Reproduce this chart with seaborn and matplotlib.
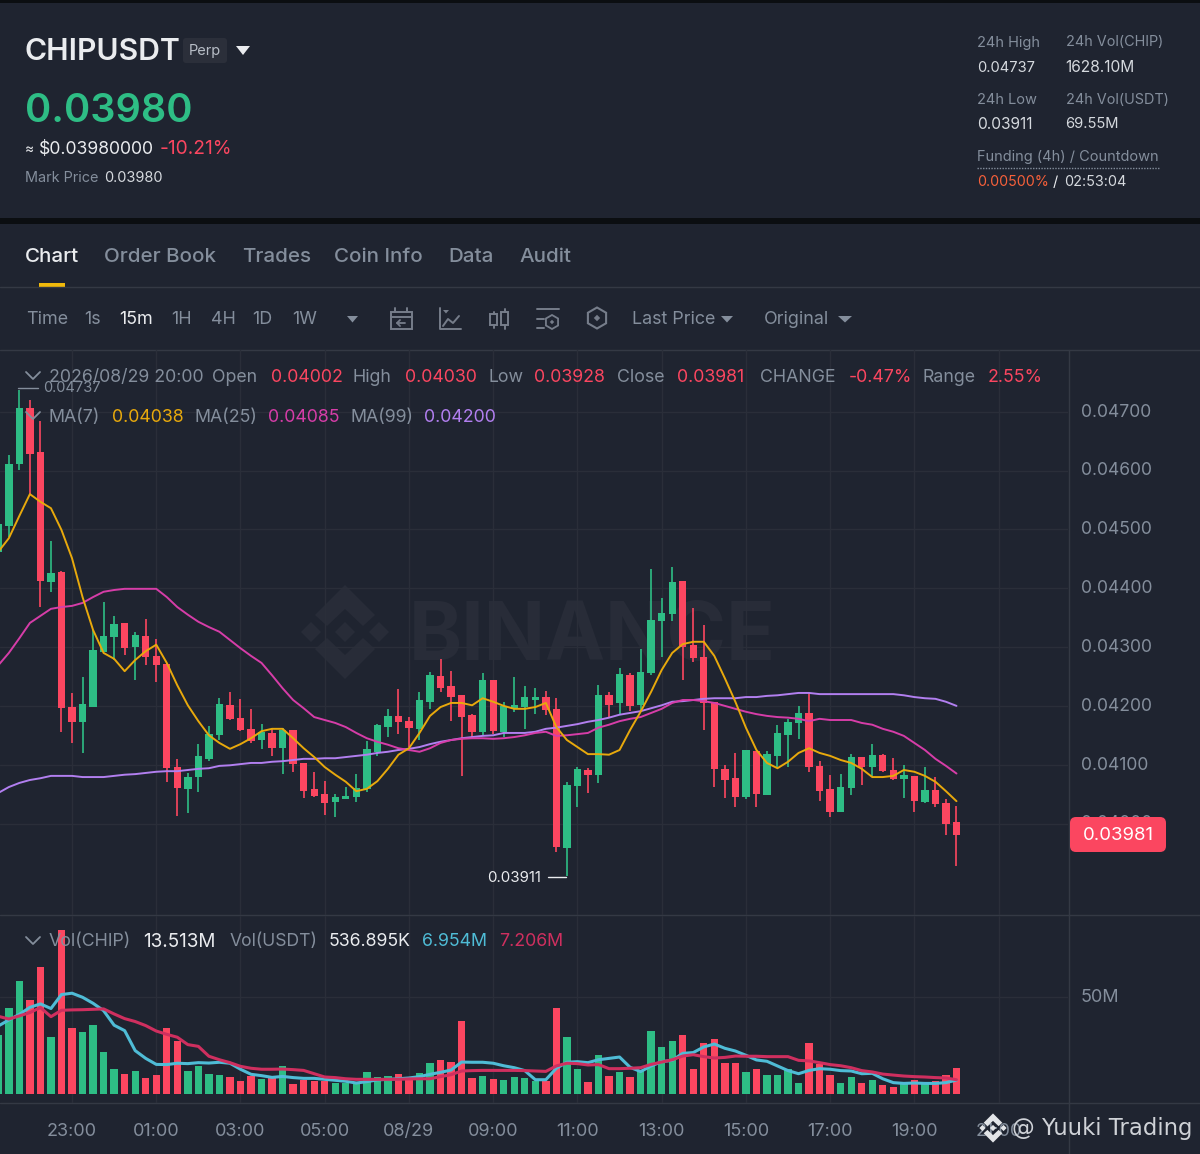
import matplotlib
matplotlib.use("Agg")
import matplotlib.pyplot as plt
from matplotlib.transforms import ScaledTranslation
import numpy as np
import seaborn as sns
from matplotlib.patches import Polygon, Rectangle, FancyBboxPatch, RegularPolygon

# ---------- data (prices in units of 0.00001) ----------
open_ = [4462,4506,4611,4706,4632,4411,4428,4198,4173,4198,4292,4317,4341,4300,4319,4285,4271,4096,4059,4079,4110,4150,4201,4180,4161,4142,4154,4129,4159,4103,4059,4050,4037,4042,4045,4059,4122,4164,4183,4174,4161,4207,4251,4234,4218,4184,4156,4244,4156,4196,4198,4210,4215,4195,3959,4064,4091,4083,4218,4205,4252,4201,4256,4344,4356,4412,4304,4283,4207,4093,4077,4045,4123,4048,4115,4150,4171,4188,4098,4059,4020,4060,4113,4096,4116,4091,4076,4081,4037,4057,4035,4002]
high = [4509,4626,4737,4720,4684,4480,4429,4222,4249,4329,4377,4353,4341,4326,4348,4314,4273,4110,4086,4135,4166,4213,4224,4212,4195,4169,4163,4163,4159,4103,4088,4072,4050,4062,4084,4140,4169,4195,4229,4181,4224,4258,4280,4259,4218,4186,4256,4244,4207,4249,4234,4230,4225,4213,4070,4096,4094,4235,4224,4264,4256,4297,4433,4384,4436,4412,4366,4338,4207,4099,4120,4125,4123,4123,4168,4178,4200,4222,4106,4083,4084,4118,4113,4135,4118,4111,4099,4081,4096,4079,4042,4030]
low = [4456,4487,4601,4558,4368,4394,4156,4137,4120,4198,4292,4278,4286,4244,4269,4241,4071,4013,4018,4054,4106,4142,4176,4157,4137,4127,4115,4084,4088,4043,4045,4015,4011,4042,4037,4054,4115,4147,4152,4130,4142,4195,4224,4174,4081,4146,4149,4152,4147,4190,4161,4186,4184,3951,3911,4028,4052,4069,4181,4184,4192,4193,4252,4283,4344,4244,4275,4159,4062,4043,4028,4042,4028,4048,4096,4096,4144,4088,4038,4011,4020,4048,4065,4079,4088,4074,4043,4020,4035,4028,3981,3928]
close = [4509,4611,4706,4628,4412,4426,4196,4173,4203,4295,4319,4339,4298,4321,4283,4269,4094,4060,4079,4115,4152,4203,4178,4159,4140,4156,4129,4159,4101,4055,4047,4035,4045,4047,4060,4127,4167,4183,4173,4162,4210,4252,4230,4215,4181,4156,4244,4157,4200,4201,4215,4215,4193,3960,4065,4093,4083,4218,4201,4254,4200,4258,4346,4358,4411,4300,4281,4205,4093,4074,4045,4125,4050,4118,4154,4173,4188,4096,4055,4020,4062,4113,4096,4116,4089,4076,4083,4038,4057,4033,3999,3981]
ma7 = [4462,4485,4523,4560,4547,4536,4499,4451,4385,4329,4290,4280,4259,4278,4293,4304,4273,4235,4201,4174,4150,4137,4127,4135,4145,4157,4161,4161,4145,4128,4113,4096,4083,4071,4055,4059,4072,4093,4117,4128,4154,4183,4198,4205,4205,4201,4213,4207,4200,4195,4195,4198,4205,4164,4142,4130,4118,4118,4117,4125,4159,4190,4224,4261,4290,4305,4309,4309,4285,4247,4207,4163,4125,4103,4094,4105,4120,4128,4120,4115,4108,4103,4093,4079,4079,4081,4091,4088,4081,4071,4055,4038]
ma25 = [4269,4290,4315,4341,4353,4365,4368,4370,4375,4385,4394,4397,4399,4399,4399,4399,4385,4368,4355,4343,4334,4326,4312,4298,4285,4273,4252,4230,4210,4196,4181,4176,4171,4164,4154,4145,4139,4134,4128,4125,4122,4128,4137,4142,4144,4145,4145,4144,4145,4147,4150,4154,4156,4149,4150,4152,4154,4163,4168,4174,4178,4181,4188,4195,4205,4210,4210,4208,4205,4200,4195,4190,4186,4183,4181,4180,4178,4174,4178,4176,4176,4176,4171,4168,4161,4156,4149,4137,4125,4110,4098,4085]
ma99 = [4052,4062,4069,4074,4077,4081,4081,4081,4079,4079,4079,4081,4083,4084,4086,4088,4089,4089,4091,4093,4094,4098,4099,4101,4103,4103,4105,4106,4108,4110,4110,4111,4111,4113,4115,4117,4120,4122,4125,4127,4130,4135,4139,4142,4145,4147,4149,4150,4154,4154,4154,4156,4161,4163,4166,4169,4173,4176,4180,4185,4188,4191,4196,4201,4207,4208,4210,4212,4213,4213,4213,4215,4215,4217,4218,4220,4222,4222,4220,4220,4220,4220,4220,4220,4220,4220,4218,4215,4213,4212,4207,4200]
volume = [30.3,44.4,58.0,48.3,65.4,29.1,84.5,33.9,31.6,35.6,21.5,12.9,10.3,11.5,8.3,9.5,33.9,27.0,11.5,14.1,10.3,9.8,8.4,6.7,9.1,7.7,7.9,14.3,4.8,7.1,6.5,6.5,5.5,5.5,6.0,11.2,8.4,8.9,10.3,7.9,10.5,15.8,17.4,16.5,37.5,8.3,9.1,7.6,7.1,8.4,7.9,6.5,6.4,44.0,29.1,12.6,6.2,20.0,9.3,11.0,8.8,12.2,32.3,24.3,27.3,30.1,12.7,26.1,28.0,15.8,15.7,11.2,12.6,9.6,9.6,12.7,5.5,26.0,15.3,9.6,5.5,8.6,5.7,6.9,4.3,3.6,5.3,7.1,5.7,6.7,9.6,13.5]
vol_ma_a = [34.9,38.0,40.9,44.5,46.3,43.9,51.1,51.8,49.7,46.6,42.8,35.3,32.5,22.2,18.2,15.1,15.0,15.7,15.5,16.0,15.8,16.2,15.7,12.6,10.0,9.3,8.4,8.9,8.3,7.9,7.9,7.4,6.9,6.4,5.5,6.2,7.1,7.4,7.7,8.1,8.8,10.0,11.0,12.2,16.3,16.2,16.2,15.7,14.4,13.4,11.9,7.2,7.2,13.1,16.2,16.5,16.0,17.5,18.2,18.9,13.6,11.4,14.3,16.5,17.2,20.8,21.2,24.1,25.6,23.4,22.0,19.8,17.4,16.7,14.3,11.9,10.3,12.0,12.9,12.6,11.9,11.7,10.3,10.5,7.7,5.7,5.3,5.5,5.3,5.3,5.7,7.0]
vol_ma_b = [39.9,38.5,40.1,41.8,44.4,39.7,43.0,43.2,43.3,43.5,43.7,41.1,38.7,37.2,35.1,32.3,30.6,29.1,25.3,24.4,19.3,17.5,16.0,14.1,13.1,12.6,12.6,12.7,12.4,12.0,10.3,8.6,8.3,7.7,7.4,7.4,7.4,7.4,7.4,7.6,7.7,7.7,8.8,9.8,11.7,11.9,12.0,12.0,12.0,12.0,11.9,11.7,11.5,14.3,15.7,15.5,14.8,15.0,12.9,12.9,13.1,13.4,15.1,16.3,17.5,19.4,20.1,19.1,18.4,18.7,19.4,19.3,19.3,19.1,19.1,19.1,17.2,16.9,16.0,15.0,14.4,13.4,11.9,11.2,10.1,9.6,9.1,8.8,8.6,8.3,8.1,7.2]
price_ticks = [4000,4100,4200,4300,4400,4500,4600,4700]
time_tick_pos = [7,15,23,31,39,47,55,63,71,79,87,95]
time_labels = ["23:00","01:00","03:00","05:00","08/29","09:00","11:00","13:00","15:00","17:00","19:00","21:00"]

# ---------- style ----------
BG = "#1f2430"; BLACK = "#0b0e11"; GRID = "#2a2e39"; SEP = "#343944"
GREEN = "#2ebd85"; RED = "#fb4660"; GREY = "#848e9c"; LIGHT = "#eaecef"; SOFT = "#d5d9de"
YEL = "#e8a90c"; MAG = "#d63da8"; PUR = "#b27ff0"; TEAL = "#4fbcd6"; CRIM = "#cf2f5f"

sns.set_theme(style="dark", rc={"axes.facecolor": "none", "figure.facecolor": BG})
plt.rcParams["font.family"] = ["Inter", "DejaVu Sans"]

W, H = 1200, 1154
fig = plt.figure(figsize=(W / 100, H / 100), dpi=100)

def box(l, t, r, b):
    return [l / W, 1 - b / H, (r - l) / W, (b - t) / H]

def pane(z):
    a = fig.add_axes([0, 0, 1, 1], zorder=z)
    a.set_xlim(0, W); a.set_ylim(H, 0); a.axis("off")
    return a

bg = pane(0)
ax = fig.add_axes(box(0, 350, 1068, 915), zorder=1)
vx = fig.add_axes(box(0, 916, 1068, 1103), zorder=1)
ov = pane(2)

# ---------- background blocks ----------
bg.add_patch(Rectangle((0, 0), W, 3, color=BLACK, lw=0))
bg.add_patch(Rectangle((0, 218), W, 6, color=BLACK, lw=0))
for y0 in (287, 350, 915, 1103):
    bg.plot([0, W], [y0, y0], color=SEP, lw=1)
bg.plot([1068.5, 1068.5], [350, H], color=SEP, lw=1)
bg.add_patch(Rectangle((39, 283), 26, 4, color="#f0b90b", lw=0))

# watermark
WM = "#282c38"
def diamond(cx, cy, r, a=bg, c=WM):
    a.add_patch(Polygon([(cx - r, cy), (cx, cy - r), (cx + r, cy), (cx, cy + r)], color=c, lw=0))
def bnb_logo(cx, cy, k, a, c):
    diamond(cx, cy, 10 * k, a, c); diamond(cx - 34 * k, cy, 10 * k, a, c); diamond(cx + 34 * k, cy, 10 * k, a, c)
    for s in (-1, 1):
        a.add_patch(Polygon([(cx, cy + s * 47 * k), (cx + 30 * k, cy + s * 17 * k), (cx + 18 * k, cy + s * 6 * k), (cx, cy + s * 23 * k),
                             (cx - 18 * k, cy + s * 6 * k), (cx - 30 * k, cy + s * 17 * k)], color=c, lw=0))
bnb_logo(345, 632, 1, bg, WM)
bg.text(592, 639, "BINANCE", color=WM, fontsize=58, fontweight="bold", ha="center", va="center")

# ---------- price pane ----------
x = np.arange(len(close))
o, h, l, c = [np.array(v) / 1e5 for v in (open_, high, low, close)]
up = c >= o
cols = np.where(up, GREEN, RED)
ax.vlines(x, l, h, colors=cols, lw=1.2, zorder=3)
ax.bar(x, np.maximum(np.abs(c - o), 2e-5), bottom=np.minimum(o, c), width=0.7, color=cols, lw=0, zorder=3)
for vals, col in ((ma99, PUR), (ma25, MAG), (ma7, YEL)):
    sns.lineplot(x=x, y=np.array(vals) / 1e5, color=col, lw=1.4, ax=ax, zorder=4)
ax.set_xlim(0.161, 101.59)
ax.set_ylim(0.038445, 0.04805)
ax.set_yticks(np.array(price_ticks) / 1e5)
ax.set_yticklabels([f"{p / 1e5:.5f}" for p in price_ticks])
ax.yaxis.tick_right()
ax.set_xticks(time_tick_pos)
ax.tick_params(axis="x", length=0, labelbottom=False)
ax.tick_params(axis="y", length=0, pad=9.4, labelsize=12.6, labelcolor=GREY)
ax.grid(True, color=GRID, lw=1); ax.set_axisbelow(True)
ax.set_xlabel(""); ax.set_ylabel("")
sns.despine(ax=ax, left=True, bottom=True, right=True, top=True)

# ---------- volume pane ----------
sns.barplot(x=x, y=volume, hue=np.where(up, "up", "down"), palette={"up": GREEN, "down": RED},
            native_scale=True, dodge=False, width=0.7, saturation=1, legend=False, ax=vx, zorder=3, linewidth=0)
sns.lineplot(x=x, y=vol_ma_a, color=TEAL, lw=2.2, ax=vx, zorder=4)
sns.lineplot(x=x, y=vol_ma_b, color=CRIM, lw=2.2, ax=vx, zorder=5)
vx.set_xlim(0.161, 101.59)
vx.set_ylim(-4.8, 91.6)
vx.set_yticks([50]); vx.set_yticklabels(["50M"])
vx.yaxis.tick_right()
vx.set_xticks(time_tick_pos); vx.set_xticklabels(time_labels)
vx.tick_params(axis="y", length=0, pad=9.4, labelsize=13, labelcolor=GREY)
vx.tick_params(axis="x", length=0, pad=14.2, labelsize=13, labelcolor=GREY)
vx.grid(True, color=GRID, lw=1); vx.set_axisbelow(True)
vx.set_xlabel(""); vx.set_ylabel("")
sns.despine(ax=vx, left=True, bottom=True, right=True, top=True)
lift = ScaledTranslation(0, 1.6 / 100, fig.dpi_scale_trans)
for lab in ax.get_yticklabels() + vx.get_yticklabels():
    lab.set_transform(lab.get_transform() + lift)

# ---------- texts ----------
def T(px, py, s, col=GREY, size=12.5, ha="left", w="normal", a=ov, **kw):
    a.text(px, py + 1.5, s, color=col, fontsize=size, ha=ha, va="center", fontweight=w, **kw)

T(25, 50.5, "CHIPUSDT", LIGHT, 21.7, w="semibold")
ov.add_patch(FancyBboxPatch((183, 38), 44, 25, boxstyle="round,pad=0,rounding_size=3", color="#2b2f3a", lw=0))
T(205, 50, "Perp", "#b7bdc6", 10.5, ha="center")
ov.add_patch(Polygon([(236, 46), (250, 46), (243, 55)], color=LIGHT, lw=0))
T(25, 110.5, "0.03980", GREEN, 28.6, w="semibold")
T(25, 148, "≈", LIGHT, 10)
T(39, 148, "$0.03980000", LIGHT, 12.7)
T(160, 148, "-10.21%", RED, 13.8)
T(25, 176, "Mark Price", GREY, 10.4)
T(104.5, 176, "0.03980", SOFT, 10.5)
T(977, 41, "24h High", GREY, 10.5); T(1065.5, 41, "24h Vol(CHIP)", GREY, 10.4)
T(977, 66, "0.04737", SOFT, 10.6); T(1065.5, 66, "1628.10M", SOFT, 11.2)
T(977, 98, "24h Low", GREY, 10.5); T(1065.5, 98, "24h Vol(USDT)", GREY, 10.4)
T(977, 123, "0.03911", SOFT, 11.2); T(1065.5, 123, "69.55M", SOFT, 10.6)
T(977, 155, "Funding (4h) / Countdown", GREY, 10.5)
ov.plot([977, 1159], [168, 168], color=GREY, lw=1, ls=(0, (1, 1)))
T(977, 181, "0.00500%", "#f6603a", 10.3); T(1053, 181, "/", LIGHT, 10.5); T(1064, 181, "02:53:04", SOFT, 10.4)

for px, s, col, wt in ((25, "Chart", LIGHT, "medium"), (104, "Order Book", GREY, "medium"), (242.5, "Trades", GREY, "medium"),
                       (334.5, "Coin Info", GREY, "medium"), (448, "Data", GREY, "medium"), (519, "Audit", GREY, "medium")):
    T(px, 255.5, s, col, 14.8, w=wt)
for px, s, col in ((27, "Time", GREY), (85, "1s", GREY), (120, "15m", LIGHT), (172, "1H", GREY), (212, "4H", GREY),
                   (253, "1D", GREY), (293, "1W", GREY), (633.5, "Last Price", GREY), (764.5, "Original", GREY)):
    T(px - 1, 318, s, col, 12.9)
for a0, b0 in ((347, 358), (721, 733), (838, 852)):
    ov.add_patch(Polygon([(a0, 316), (b0, 316), ((a0 + b0) / 2, 322.5)], color=GREY, lw=0))

# toolbar icons
ICON = "#767d8a"
ov.add_patch(Rectangle((390.5, 312), 21, 17, fill=False, ec=ICON, lw=1.4))
ov.plot([390.5, 411.5], [317, 317], color=ICON, lw=1.4)
ov.plot([395, 395], [308, 312], color=ICON, lw=1.4); ov.plot([407, 407], [308, 312], color=ICON, lw=1.4)
ov.plot([405, 397], [323, 323], color=ICON, lw=1.3); ov.plot([400, 397, 400], [320, 323, 326], color=ICON, lw=1.3)
ov.plot([440, 440, 461], [308, 329, 329], color=ICON, lw=1.4)
ov.plot([443, 448, 453, 459], [326, 319, 323, 316], color=ICON, lw=1.4)
ov.add_patch(Polygon([(443, 310), (449, 310), (446, 313.5)], color=ICON, lw=0))
for bx, t0, t1, w0, w1 in ((490, 314, 325, 312, 328), (501, 312, 325, 309, 329)):
    ov.add_patch(Rectangle((bx, t0), 7, t1 - t0, fill=False, ec=ICON, lw=1.4))
    ov.plot([bx + 3.5, bx + 3.5], [w0, t0], color=ICON, lw=1.4); ov.plot([bx + 3.5, bx + 3.5], [t1, w1], color=ICON, lw=1.4)
ov.plot([537, 559], [309, 309], color=ICON, lw=1.4); ov.plot([537, 544], [319, 319], color=ICON, lw=1.4); ov.plot([537, 544], [328, 328], color=ICON, lw=1.4)
ov.add_patch(RegularPolygon((552, 322), 6, radius=7, fill=False, ec=ICON, lw=1.3))
diamond(552, 322, 2.2, ov, ICON)
ov.add_patch(RegularPolygon((597, 318), 6, radius=10.5, fill=False, ec=ICON, lw=1.5))
diamond(597, 318, 3.2, ov, ICON)

# chart legends
def chevron(px, py):
    ov.plot([px - 7, px, px + 7], [py - 4, py + 3, py - 4], color=GREY, lw=1.3)
chevron(33, 376); chevron(33, 416); chevron(33, 941)
row1 = ((49, "2026/08/29 20:00", GREY), (212, "Open", GREY), (271, "0.04002", RED), (353, "High", GREY), (405, "0.04030", RED),
        (488, "Low", GREY), (534, "0.03928", RED), (617, "Close", GREY), (677, "0.03981", RED), (760, "CHANGE", GREY),
        (849, "-0.47%", RED), (922, "Range", GREY), (988, "2.55%", RED))
for px, s, col in row1:
    T(px, 375.5, s, col, 12.8)
for px, s, col in ((49, "MA(7)", GREY), (112, "0.04038", YEL), (195, "MA(25)", GREY), (268, "0.04085", MAG),
                   (351, "MA(99)", GREY), (424, "0.04200", PUR)):
    T(px, 416.5, s, col, 12.8)
for px, s, col, sz in ((49, "Vol(CHIP)", GREY, 12.8), (143, "13.513M", LIGHT, 13.6), (230, "Vol(USDT)", GREY, 12.6), (329, "536.895K", LIGHT, 12.8),
                       (422, "6.954M", TEAL, 12.8), (499, "7.206M", CRIM, 12.8)):
    T(px, 940.5, s, col, sz)
ov.plot([18, 38], [388, 388], color=GREY, lw=1)
T(43, 387, "0.04737", GREY, 10.5)
T(487, 876, "0.03911", LIGHT, 10.8)
ov.plot([548, 566], [877, 877], color=LIGHT, lw=1)
ov.add_patch(FancyBboxPatch((1070, 817), 96, 35, boxstyle="round,pad=0,rounding_size=6", color=RED, lw=0))
T(1118, 834, "0.03981", "white", 13.4, ha="center")

# author mark
bnb_logo(993, 1128, 0.31, ov, "#e3e5e8")
T(1012, 1127, "@ Yuuki Trading", "#cfd2d7", 16.4, family=["DejaVu Sans"])

fig.savefig("out.png", dpi=100, facecolor=BG)
